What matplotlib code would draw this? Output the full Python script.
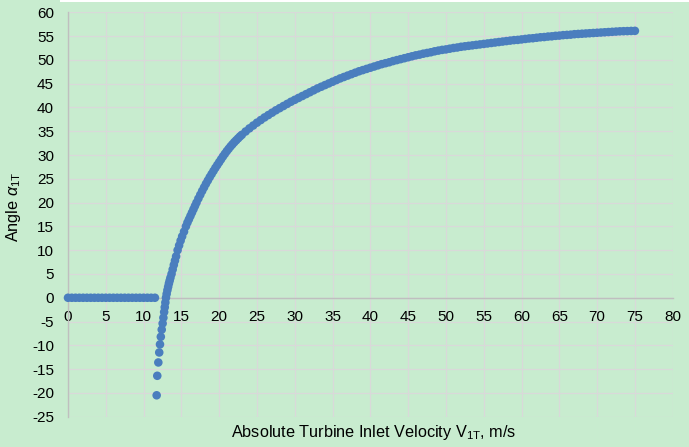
import matplotlib
matplotlib.use("Agg")
import matplotlib.pyplot as plt
from matplotlib.patches import Rectangle

plt.rcParams['font.family'] = ['Liberation Sans', 'DejaVu Sans']
plt.rcParams['mathtext.fontset'] = 'custom'
plt.rcParams['mathtext.rm'] = 'Liberation Sans'
plt.rcParams['mathtext.it'] = 'Liberation Sans:italic'
plt.rcParams['axes.unicode_minus'] = False

# ---- data ----
# region where the angle is reported as 0
v_zero = [0.0, 0.5, 1.0, 1.5, 2.0, 2.5, 3.0, 3.5, 4.0, 4.5, 5.0, 5.5,
          6.0, 6.5, 7.0, 7.5, 8.0, 8.5, 9.0, 9.5, 10.0, 10.5, 11.0, 11.5]
a_zero = [0.0, 0.0, 0.0, 0.0, 0.0, 0.0, 0.0, 0.0, 0.0, 0.0, 0.0, 0.0,
          0.0, 0.0, 0.0, 0.0, 0.0, 0.0, 0.0, 0.0, 0.0, 0.0, 0.0, 0.0]

# the rising branch
v_curve = [11.73, 11.81, 11.95, 12.07, 12.17, 12.28, 12.40, 12.52, 12.62, 12.72,
           12.80, 12.88, 12.96, 13.05, 13.15, 13.25, 13.35, 13.45, 13.55, 13.70,
           13.85, 14.00, 14.15, 14.30, 14.50, 14.70, 14.90, 15.10, 15.35, 15.60,
           15.80, 16.00, 16.20, 16.40, 16.60, 16.80, 17.00, 17.25, 17.50, 17.75,
           18.00, 18.25, 18.50, 18.75, 19.00, 19.25, 19.50, 19.75, 20.00, 20.25,
           20.50, 20.75, 21.00, 21.25, 21.50, 21.75, 22.00, 22.25, 22.50, 22.75,
           23.00, 23.50, 24.00, 24.50, 25.00, 25.50, 26.00, 26.50, 27.00, 27.50,
           28.00, 28.50, 29.00, 29.50, 30.00, 30.50, 31.00, 31.50, 32.00, 32.50,
           33.00, 33.50, 34.00, 34.50, 35.00, 35.50, 36.00, 36.50, 37.00, 37.50,
           38.00, 38.50, 39.00, 39.50, 40.00, 40.50, 41.00, 41.50, 42.00, 42.50,
           43.00, 43.50, 44.00, 44.50, 45.00, 45.50, 46.00, 46.50, 47.00, 47.50,
           48.00, 48.50, 49.00, 49.50, 50.00, 50.50, 51.00, 51.50, 52.00, 52.50,
           53.00, 53.50, 54.00, 54.50, 55.00, 55.50, 56.00, 56.50, 57.00, 57.50,
           58.00, 58.50, 59.00, 59.50, 60.00, 60.50, 61.00, 61.50, 62.00, 62.50,
           63.00, 63.50, 64.00, 64.50, 65.00, 65.50, 66.00, 66.50, 67.00, 67.50,
           68.00, 68.50, 69.00, 69.50, 70.00, 70.50, 71.00, 71.50, 72.00, 72.50,
           73.00, 73.50, 74.00, 74.50, 75.00]
a_curve = [-20.5, -16.4, -13.6, -11.5, -9.8, -8.2, -6.7, -5.4, -4.2, -3.0,
           -2.0, -1.0, 0.0, 0.8, 1.6, 2.3, 3.0, 3.6, 4.2, 5.0,
           5.95, 6.9, 7.8, 8.7, 10.0, 11.0, 12.0, 12.9, 13.9, 15.0,
           15.8, 16.5, 17.2, 17.9, 18.6, 19.3, 20.0, 20.85, 21.65, 22.45,
           23.2, 23.95, 24.65, 25.35, 26.0, 26.65, 27.3, 27.9, 28.5, 29.1,
           29.7, 30.25, 30.8, 31.3, 31.8, 32.25, 32.7, 33.1, 33.5, 33.9,
           34.25, 34.95, 35.6, 36.2, 36.8, 37.35, 37.9, 38.4, 38.9, 39.4,
           39.85, 40.3, 40.75, 41.2, 41.6, 42.0, 42.4, 42.8, 43.2, 43.6,
           44.0, 44.35, 44.7, 45.05, 45.4, 45.75, 46.1, 46.4, 46.7, 47.0,
           47.3, 47.6, 47.85, 48.1, 48.35, 48.6, 48.85, 49.1, 49.3, 49.5,
           49.75, 49.95, 50.15, 50.35, 50.55, 50.75, 50.95, 51.1, 51.3, 51.45,
           51.6, 51.8, 51.95, 52.1, 52.2, 52.35, 52.5, 52.6, 52.75, 52.85,
           52.95, 53.05, 53.15, 53.25, 53.35, 53.45, 53.55, 53.65, 53.75, 53.85,
           53.95, 54.05, 54.15, 54.2, 54.3, 54.4, 54.5, 54.55, 54.65, 54.75,
           54.8, 54.9, 54.95, 55.05, 55.1, 55.2, 55.25, 55.3, 55.4, 55.45,
           55.5, 55.55, 55.6, 55.65, 55.7, 55.75, 55.8, 55.85, 55.9, 55.95,
           56.0, 56.03, 56.05, 56.08, 56.1]

x_ticks = list(range(0, 81, 5))
y_ticks = list(range(-25, 61, 5))

bg = '#C8ECCF'
blue = '#4A7EBE'
grid_c = '#D9D9D9'

fig = plt.figure(figsize=(6.89, 4.47), dpi=100, facecolor=bg)
ax = fig.add_axes([68/689, 1 - 416.7/447, (672.7-68)/689, (416.7-12.3)/447])
ax.set_facecolor(bg)

ax.set_xlim(0, 80)
ax.set_ylim(-25, 60)
ax.set_xticks(x_ticks)
ax.set_yticks(y_ticks)
ax.grid(True, color=grid_c, linewidth=0.9)
ax.set_axisbelow(True)

for s in ['top', 'right']:
    ax.spines[s].set_visible(False)
ax.spines['left'].set_color('#BFBFBF')
ax.spines['left'].set_linewidth(1.0)
ax.spines['bottom'].set_position(('data', 0))
ax.spines['bottom'].set_color('#BFBFBF')
ax.spines['bottom'].set_linewidth(1.0)

ax.tick_params(axis='both', length=0, labelsize=11, colors='black')
ax.tick_params(axis='y', pad=10)
ax.tick_params(axis='x', pad=8.5)

ax.scatter(v_zero, a_zero, s=38, color=blue, edgecolors='none', zorder=3, clip_on=False)
ax.scatter(v_curve, a_curve, s=38, color=blue, edgecolors='none', zorder=3, clip_on=False)

fig.text(0.542, 1 - 437/447, r'Absolute Turbine Inlet Velocity V$_{\mathregular{1T}}$, m/s',
         ha='center', va='baseline', fontsize=11.7)
fig.text(0.019, 0.537, r'Angle $\alpha_{\mathregular{1T}}$',
         ha='center', va='center', rotation=90, fontsize=11.7)

# thin white strip at the top edge of the image
fig.add_artist(Rectangle((60/689, 1 - 2/447), 1, 2/447, transform=fig.transFigure,
                         facecolor='white', edgecolor='none'))

fig.savefig('out.png', dpi=100, facecolor=bg)
